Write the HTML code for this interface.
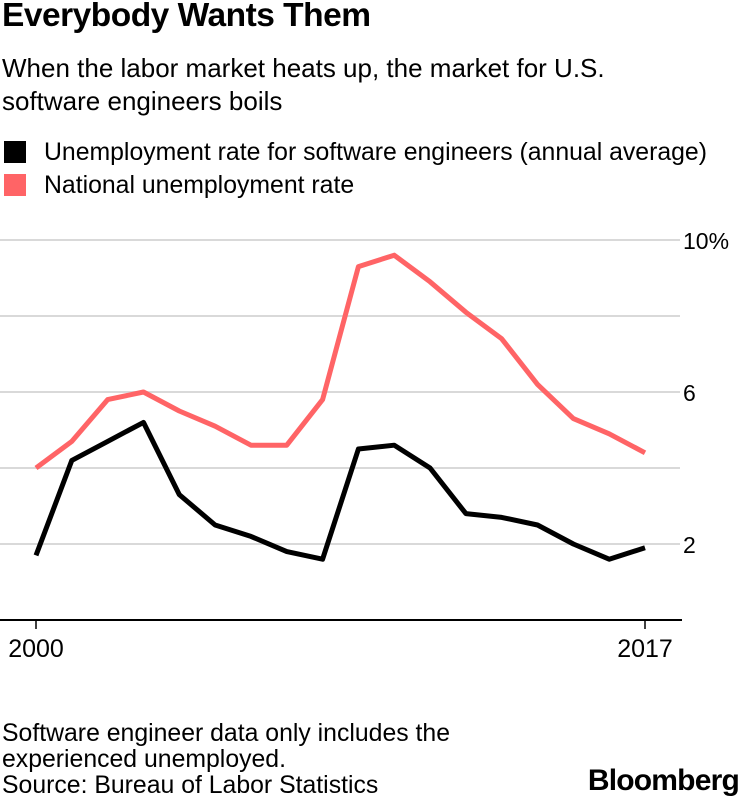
<!DOCTYPE html>
<html><head><meta charset="utf-8"><style>
body{margin:0;background:#fff;font-family:"Liberation Sans",Arial,sans-serif;}
#wrap{position:relative;width:750px;height:808px;overflow:hidden;}
.t{position:absolute;left:2px;white-space:nowrap;color:#000;}
</style></head><body>
<div id="wrap">
<div class="t" style="top:-3px;font-size:33.5px;font-weight:bold;letter-spacing:-0.5px;">Everybody Wants Them</div>
<div class="t" style="top:52px;font-size:26px;line-height:33px;">When the labor market heats up, the market for U.S.<br>software engineers boils</div>
<div style="position:absolute;left:4px;top:139px;font-size:24.8px;white-space:nowrap;"><span style="display:inline-block;width:22px;height:22px;background:#000;vertical-align:-3px;margin-right:18px;"></span>Unemployment rate for software engineers (annual average)</div>
<div style="position:absolute;left:4px;top:172px;font-size:24.8px;white-space:nowrap;"><span style="display:inline-block;width:22px;height:22px;background:#ff6466;vertical-align:-3px;margin-right:18px;"></span>National unemployment rate</div>
<svg id="plot" width="750" height="808" style="position:absolute;left:0;top:0;"></svg>
<div class="t" style="top:721px;font-size:24.8px;line-height:26px;">Software engineer data only includes the<br>experienced unemployed.<br>Source: Bureau of Labor Statistics</div>
<div style="position:absolute;right:11px;top:764px;font-size:30px;font-weight:bold;letter-spacing:-0.8px;">Bloomberg</div>
</div>
<script>
const years=[2000,2001,2002,2003,2004,2005,2006,2007,2008,2009,2010,2011,2012,2013,2014,2015,2016,2017];
const national=[4.0,4.7,5.8,6.0,5.5,5.1,4.6,4.6,5.8,9.3,9.6,8.9,8.1,7.4,6.2,5.3,4.9,4.4];
const software=[1.7,4.2,4.7,5.2,3.3,2.5,2.2,1.8,1.6,4.5,4.6,4.0,2.8,2.7,2.5,2.0,1.6,1.9];
const yTicks=[2,4,6,8,10];
const yTickLabels=["2","","6","","10%"];
const xTickLabels=["2000","2017"];
const NS="http://www.w3.org/2000/svg";
const svg=document.getElementById('plot');
const x=v=>36+(v-2000)*(645-36)/17;
const y=v=>620-v*38;
function mk(t,a){const e=document.createElementNS(NS,t);for(const k in a)e.setAttribute(k,a[k]);svg.appendChild(e);return e;}
yTicks.forEach((t,i)=>{
 const g=mk('line',{x1:0,x2:680,y1:y(t),y2:y(t),stroke:'#d9d9d9','stroke-width':2});
 
 
 if(yTickLabels[i]){const tx=mk('text',{x:683,y:y(t)+9,'font-size':23,'font-family':'Liberation Sans, sans-serif'});tx.textContent=yTickLabels[i];
 
 }
});
const ax=mk('line',{x1:0,x2:682,y1:620,y2:620,stroke:'#000','stroke-width':2});


[years[0],years[years.length-1]].forEach((yr,i)=>{
 const tk=mk('line',{x1:x(yr),x2:x(yr),y1:620,y2:629,stroke:'#000','stroke-width':1.5});
 
 
 const tx=mk('text',{x:x(yr),y:657,'font-size':25,'text-anchor':'middle','font-family':'Liberation Sans, sans-serif'});tx.textContent=xTickLabels[i];
 
 
});
function line(vals,col,name){
 const p=mk('polyline',{points:vals.map((v,i)=>x(years[i])+','+y(v)).join(' '),fill:'none',stroke:col,'stroke-width':5,'stroke-linejoin':'round'});
 
 
}
line(national,'#ff6466','national-line');
line(software,'#000','software-line');
</script>
</body></html>
